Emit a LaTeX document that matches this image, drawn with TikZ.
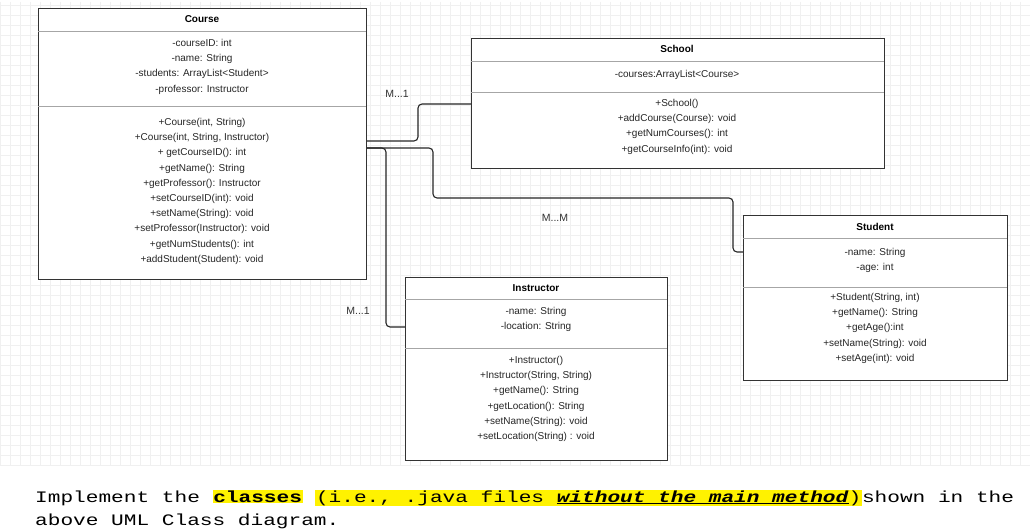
\documentclass[tikz,border=0pt]{standalone}
\usepackage{fontspec}
\setmainfont{Liberation Sans}
\newfontfamily\monof{Liberation Mono}
\begin{document}
\begin{tikzpicture}[x=1pt,y=-1pt,
  box/.style={draw=black!80,line width=0.6pt,fill=white},
  sep/.style={draw=black!35,line width=0.6pt},
  txt/.style={align=center,font=\fontsize{10}{15.2}\selectfont,inner sep=0pt,text=black!85},
  ttl/.style={font=\fontsize{10}{11}\selectfont\bfseries,inner sep=0pt},
  conn/.style={draw=black!85,line width=1.1pt,rounded corners=4pt},
  lbl/.style={font=\fontsize{10.5}{11}\selectfont,inner sep=0pt,text=black!80}]
\useasboundingbox (0,0) rectangle (1030,532);
\fill[white] (0,0) rectangle (1030,532);
\foreach \i in {0,10,...,1030} \draw[black!6,line width=0.3pt] (\i,2) -- (\i,465);
\foreach \j in {5,15,...,465} \draw[black!6,line width=0.3pt] (0,\j) -- (1030,\j);
% connectors
\coordinate (c1) at (366,141);
\coordinate (c2) at (366,148);
\draw[conn] (c1) -- (418,141) -- (418,104) -- (471,104);
\draw[conn] (c2) -- (433,148) -- (433,198) -- (733,198) -- (733,252) -- (743,252);
\draw[conn] (c2) -- (386,148) -- (386,327) -- (405,327);
% Course
\node[box,minimum width=328pt,minimum height=271pt,anchor=north west,inner sep=0pt] (course) at (38,8) {};
\draw[sep] (38,31) -- (366,31); \draw[sep] (38,106) -- (366,106);
\node[ttl] (courseT) at (202,19) {Course};
\node[txt,anchor=north] (courseA) at (202,39) {-courseID: int\\-name: String\\-students: ArrayList<Student>\\-professor: Instructor};
\node[txt,anchor=north] (courseM) at (202,118) {+Course(int, String)\\+Course(int, String, Instructor)\\+ getCourseID(): int\\+getName(): String\\+getProfessor(): Instructor\\+setCourseID(int): void\\+setName(String): void\\+setProfessor(Instructor): void\\+getNumStudents(): int\\+addStudent(Student): void};
% School
\node[box,minimum width=413pt,minimum height=130pt,anchor=north west,inner sep=0pt] (school) at (471,38) {};
\draw[sep] (471,61) -- (884,61); \draw[sep] (471,92) -- (884,92);
\node[ttl] (schoolT) at (677,49) {School};
\node[txt] (schoolA) at (677,75) {-courses:ArrayList<Course>};
\node[txt,anchor=north] (schoolM) at (677,99) {+School()\\+addCourse(Course): void\\+getNumCourses(): int\\+getCourseInfo(int): void};
% Student
\node[box,minimum width=264pt,minimum height=165pt,anchor=north west,inner sep=0pt] (student) at (743,215) {};
\draw[sep] (743,238) -- (1007,238); \draw[sep] (743,287) -- (1007,287);
\node[ttl] (studentT) at (875,227) {Student};
\node[txt,anchor=north] (studentA) at (875,248) {-name: String\\-age: int};
\node[txt,anchor=north] (studentM) at (875,293) {+Student(String, int)\\+getName(): String\\+getAge():int\\+setName(String): void\\+setAge(int): void};
% Instructor
\node[box,minimum width=262pt,minimum height=183pt,anchor=north west,inner sep=0pt] (instr) at (405,277) {};
\draw[sep] (405,299) -- (667,299); \draw[sep] (405,348) -- (667,348);
\node[ttl] (instrT) at (536,288) {Instructor};
\node[txt,anchor=north] (instrA) at (536,307) {-name: String\\-location: String};
\node[txt,anchor=north] (instrM) at (536,356) {+Instructor()\\+Instructor(String, String)\\+getName(): String\\+getLocation(): String\\+setName(String): void\\+setLocation(String) : void};
% labels
\node[lbl] (l1) at (397,94) {M...1};
\node[lbl] (l2) at (555,218) {M...M};
\node[lbl] (l3) at (358,311) {M...1};
% bottom text
\setlength{\fboxsep}{0.5pt}
\node[anchor=base west,inner sep=0pt] (t1) at (35,502) {\scalebox{1.32}[1]{\monof\fontsize{16}{20}\selectfont Implement the \colorbox{yellow}{\textbf{classes}} \colorbox{yellow}{(i.e., .java files \underline{\textbf{\textit{without the main method}}})}shown in the}};
\node[anchor=base west,inner sep=0pt] (t2) at (35,525) {\scalebox{1.32}[1]{\monof\fontsize{16}{20}\selectfont above UML Class diagram.}};
\end{tikzpicture}
\end{document}
